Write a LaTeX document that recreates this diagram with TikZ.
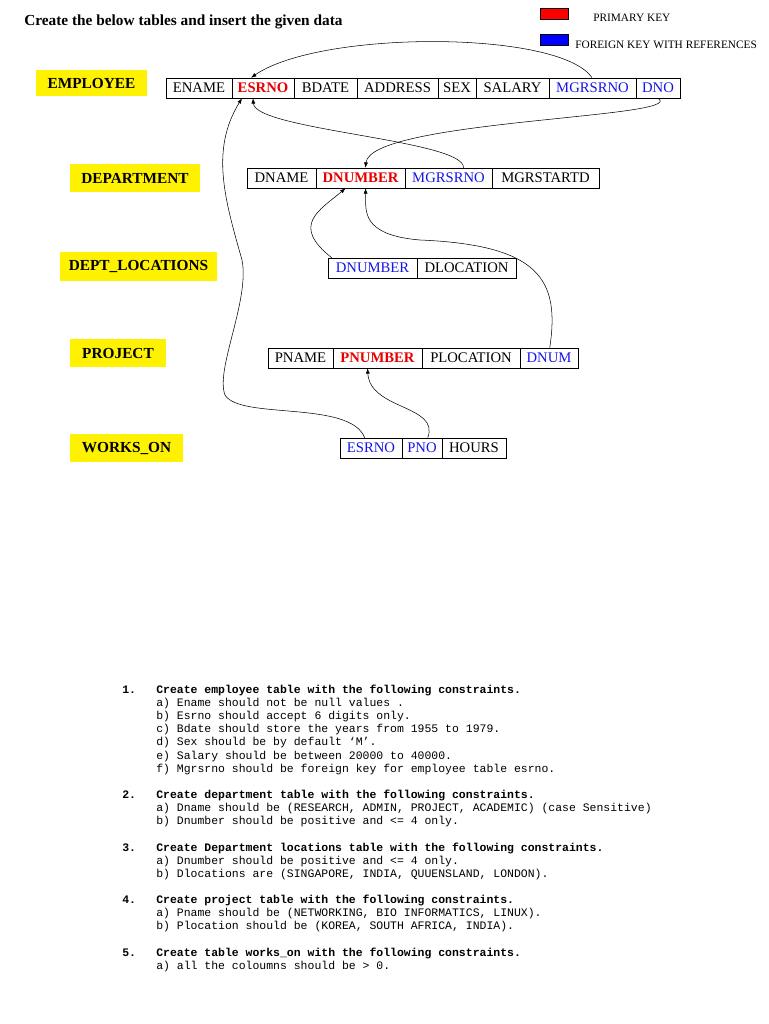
\documentclass[tikz,border=0pt]{standalone}
\usepackage{fontspec}
\setmainfont{Liberation Serif}
\setmonofont{Liberation Mono}
\usetikzlibrary{arrows.meta}
\definecolor{fkblue}{RGB}{20,20,230}
\definecolor{pkred}{RGB}{230,0,0}
\begin{document}
\begin{tikzpicture}[x=0.75pt,y=-0.75pt,
  cell/.style={draw,inner sep=0pt,minimum height=15pt,font=\fontsize{11}{13}\selectfont},
  pk/.style={cell,text=pkred,font=\fontsize{11}{13}\selectfont\bfseries},
  fk/.style={cell,text=fkblue},
  lbl/.style={fill=yellow,inner sep=0pt,font=\fontsize{11.5}{13}\selectfont\bfseries},
  mono/.style={anchor=base west,inner sep=0pt,font=\ttfamily\fontsize{8.6}{10}\selectfont},
  monob/.style={mono,font=\ttfamily\bfseries\fontsize{8.6}{10}\selectfont},
  arr/.style={-{Latex[length=4pt,width=3pt]},thin}]
\useasboundingbox (0,0) rectangle (768,1024);
\def\cellnode#1#2#3#4#5#6{\node[#1,minimum width={(#4-#3)*0.75pt}] (#2) at ({(#3+#4)/2},#5) {#6};}
\node[anchor=base west,inner sep=0pt,font=\fontsize{11.5}{13}\selectfont\bfseries] (title) at (24,26) {Create the below tables and insert the given data};
\node[draw,fill=red,minimum width=21pt,minimum height=8pt,inner sep=0pt] (pkbox) at (554,14) {};
\node[anchor=base west,inner sep=0pt,font=\fontsize{8.5}{10}\selectfont] (pktxt) at (593,22) {PRIMARY KEY};
\node[draw,fill=blue,minimum width=21pt,minimum height=8pt,inner sep=0pt] (fkbox) at (554,40) {};
\node[anchor=base west,inner sep=0pt,font=\fontsize{8.5}{10}\selectfont] (fktxt) at (575,49) {FOREIGN KEY WITH REFERENCES};
\node[lbl,minimum width={111*0.75pt},minimum height={26*0.75pt}] (L1) at (91.5,83) {EMPLOYEE};
\node[lbl,minimum width={130*0.75pt},minimum height={28*0.75pt}] (L2) at (135,178) {DEPARTMENT};
\node[lbl,minimum width={157*0.75pt},minimum height={29*0.75pt}] (L3) at (138.5,266.5) {DEPT\_LOCATIONS};
\node[lbl,minimum width={96*0.75pt},minimum height={28*0.75pt}] (L4) at (118,353) {PROJECT};
\node[lbl,minimum width={113*0.75pt},minimum height={28*0.75pt}] (L5) at (126.5,448) {WORKS\_ON};
\cellnode{cell}{e1}{166}{232}{88}{ENAME}
\cellnode{pk}{e2}{232}{294}{88}{ESRNO}
\cellnode{cell}{e3}{294}{357}{88}{BDATE}
\cellnode{cell}{e4}{357}{438}{88}{ADDRESS}
\cellnode{cell}{e5}{438}{476}{88}{SEX}
\cellnode{cell}{e6}{476}{549}{88}{SALARY}
\cellnode{fk}{e7}{549}{636}{88}{MGRSRNO}
\cellnode{fk}{e8}{636}{680}{88}{DNO}
\cellnode{cell}{d1}{247}{316}{178}{DNAME}
\cellnode{pk}{d2}{316}{405}{178}{DNUMBER}
\cellnode{fk}{d3}{405}{492}{178}{MGRSRNO}
\cellnode{cell}{d4}{492}{599}{178}{MGRSTARTD}
\cellnode{fk}{l1}{328}{417}{268}{DNUMBER}
\cellnode{cell}{l2}{417}{516}{268}{DLOCATION}
\cellnode{cell}{p1}{268}{333}{358}{PNAME}
\cellnode{pk}{p2}{333}{422}{358}{PNUMBER}
\cellnode{cell}{p3}{422}{520}{358}{PLOCATION}
\cellnode{fk}{p4}{520}{578}{358}{DNUM}
\cellnode{fk}{w1}{340}{402}{448}{ESRNO}
\cellnode{fk}{w2}{402}{442}{448}{PNO}
\cellnode{cell}{w3}{442}{506}{448}{HOURS}
\coordinate (c1) at (592,78);
\draw[arr] (e7.north -| c1) .. controls (560,30) and (320,30) .. ([xshift={-12*0.75pt}]e2.north);
\draw[arr] (e8.south) .. controls (690,118) and (370,120) .. ([xshift={5*0.75pt}]d2.north);
\draw[arr] ([xshift={15*0.75pt}]d3.north) .. controls (465,140) and (255,130) .. ([xshift={-10*0.75pt}]e2.south);
\draw[arr] ([xshift={4*0.75pt}]l1.north west) .. controls (290,225) and (320,210) .. ([xshift={-15*0.75pt}]d2.south);
\draw[arr] ([xshift={30*0.75pt}]p4.north west) .. controls (560,280) and (540,245) .. (420,240) .. controls (360,235) and (366,210) .. ([xshift={5*0.75pt}]d2.south);
\draw[arr] ([xshift={25*0.75pt}]w1.north west) .. controls (350,400) and (240,420) .. (225,395) .. controls (215,370) and (250,300) .. (242,260) .. controls (225,200) and (210,150) .. ([xshift={-21*0.75pt}]e2.south);
\draw[arr] ([xshift={26*0.75pt}]w2.north west) .. controls (440,405) and (370,410) .. ([xshift={-10*0.75pt}]p2.south);
\node[monob] (n1) at (122,693) {1.};
\node[monob] (t1) at (156,693) {Create employee table with the following constraints.};
\node[mono] (t1a) at (156,706) {a) Ename should not be null values .};
\node[mono] (t1b) at (156,719) {b) Esrno should accept 6 digits only.};
\node[mono] (t1c) at (156,732) {c) Bdate should store the years from 1955 to 1979.};
\node[mono] (t1d) at (156,745) {d) Sex should be by default ‘M’.};
\node[mono] (t1e) at (156,759) {e) Salary should be between 20000 to 40000.};
\node[mono] (t1f) at (156,772) {f) Mgrsrno should be foreign key for employee table esrno.};
\node[monob] (n2) at (122,798) {2.};
\node[monob] (t2) at (156,798) {Create department table with the following constraints.};
\node[mono] (t2a) at (156,811) {a) Dname should be (RESEARCH, ADMIN, PROJECT, ACADEMIC) (case Sensitive)};
\node[mono] (t2b) at (156,824) {b) Dnumber should be positive and <= 4 only.};
\node[monob] (n3) at (122,851) {3.};
\node[monob] (t3) at (156,851) {Create Department locations table with the following constraints.};
\node[mono] (t3a) at (156,864) {a) Dnumber should be positive and <= 4 only.};
\node[mono] (t3b) at (156,877) {b) Dlocations are  (SINGAPORE, INDIA, QUUENSLAND, LONDON).};
\node[monob] (n4) at (122,903) {4.};
\node[monob] (t4) at (156,903) {Create project table with the following  constraints.};
\node[mono] (t4a) at (156,916) {a) Pname should be (NETWORKING, BIO INFORMATICS, LINUX).};
\node[mono] (t4b) at (156,929) {b) Plocation should be (KOREA, SOUTH AFRICA, INDIA).};
\node[monob] (n5) at (122,956) {5.};
\node[monob] (t5) at (156,956) {Create table works\_on with the following constraints.};
\node[mono] (t5a) at (156,969) {a) all the coloumns should be > 0.};
\end{tikzpicture}
\end{document}
